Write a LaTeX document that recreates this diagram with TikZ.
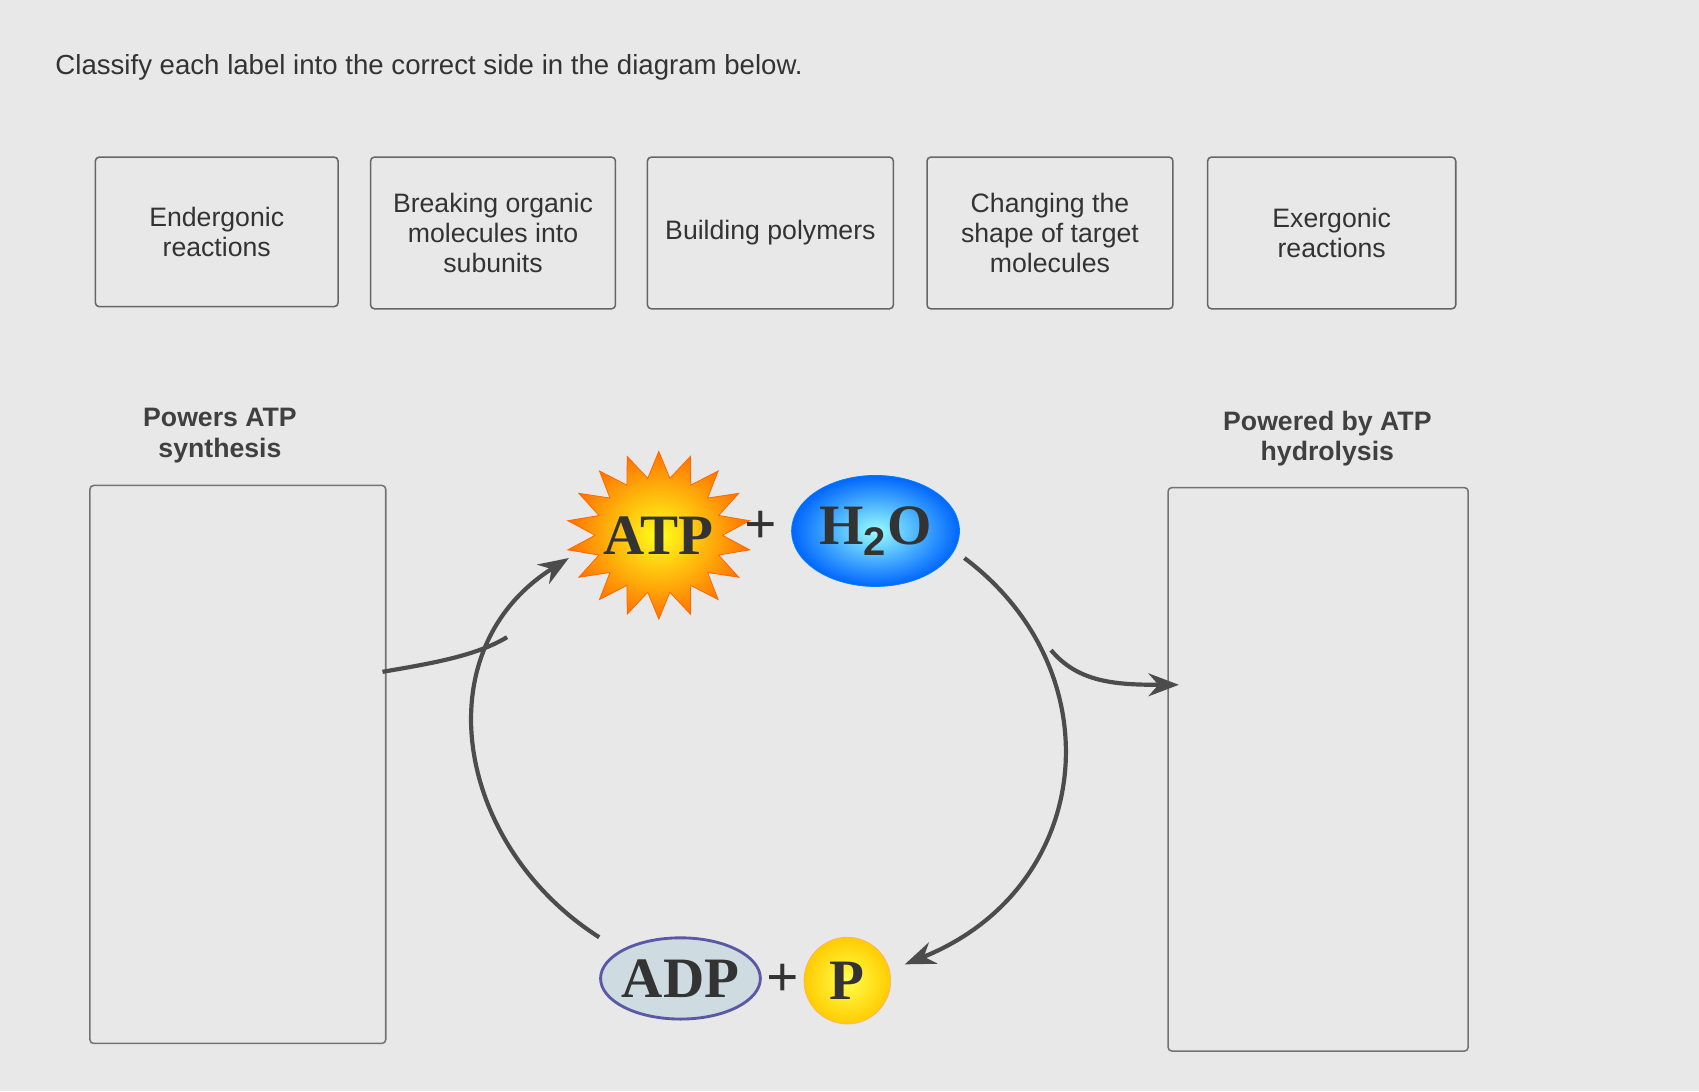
\documentclass[tikz,border=0pt]{standalone}
\usepackage{fontspec}
\setmainfont{Liberation Sans}
\newfontfamily\serifb{Liberation Serif}
\usetikzlibrary{shapes.geometric,arrows.meta}
\begin{document}
\begin{tikzpicture}[x=0.02cm,y=-0.02cm,
  lbl/.style={draw=black!60,line width=0.8pt,rounded corners=2pt,align=center,font=\fontsize{14}{16}\selectfont,text=black!80},
  drop/.style={draw=black!55,line width=0.8pt,rounded corners=2pt},
  hd/.style={align=center,font=\fontsize{14}{16}\selectfont\bfseries,text=black!75},
  cyc/.style={draw=black!70,line width=2.2pt,-{Stealth[length=16pt,width=12pt]}},
  chem/.style={font=\serifb\fontsize{30}{30}\selectfont\bfseries,text=black!80}]
\fill[gray!18] (0,0) rectangle (1568,1007);
\useasboundingbox (0,0) rectangle (1568,1007);
\node[anchor=west,font=\fontsize{14.5}{17}\selectfont,text=black!80] (title) at (45,62) {Classify each label into the correct side in the diagram below.};
\node[lbl,minimum width=4.48cm,minimum height=2.76cm] (b1) at (200,214) {Endergonic\\reactions};
\node[lbl,minimum width=4.52cm,minimum height=2.8cm] (b2) at (455,215) {Breaking organic\\molecules into\\subunits};
\node[lbl,minimum width=4.54cm,minimum height=2.8cm] (b3) at (711,215) {Building polymers};
\node[lbl,minimum width=4.54cm,minimum height=2.8cm] (b4) at (969,215) {Changing the\\shape of target\\molecules};
\node[lbl,minimum width=4.58cm,minimum height=2.8cm] (b5) at (1229,215) {Exergonic\\reactions};
\node[hd] (h1) at (203,402) {Powers ATP\\synthesis};
\node[hd] (h2) at (1225,405) {Powered by ATP\\hydrolysis};
\draw[drop] (83,448) rectangle (356,963);
\draw[drop] (1078,450) rectangle (1355,970);
% chemicals
\node[star,star points=18,star point ratio=1.45,minimum size=3.1cm,xscale=1.1,inner color=yellow!90!white,outer color=orange!90!red,draw=orange!80!red] (atp) at (608,494) {};
\node[chem] at (atp) {ATP};
\node[chem] (plus1) at (702,487) {+};
\node[ellipse,minimum width=3.1cm,minimum height=2.05cm,inner color=cyan!40!white,outer color=blue!60!cyan,draw=blue!50!cyan] (h2o) at (808,490) {};
\node[chem] at (h2o) {H$_{\mathbf 2}$O};
\node[ellipse,minimum width=2.95cm,minimum height=1.5cm,fill=cyan!25!gray!35,draw=blue!30!gray,line width=1.5pt] (adp) at (628,903) {};
\node[chem] at (adp) {ADP};
\node[chem] (plus2) at (722,905) {+};
\node[circle,minimum size=1.6cm,inner color=yellow!70!white,outer color=yellow!60!orange,draw=orange!60] (p) at (782,905) {};
\node[chem] at (p) {P};
% cycle
\coordinate (ls) at (553,865);
\coordinate (le) at (525,515);
\coordinate (rs) at (890,515);
\coordinate (re) at (835,890);
\draw[cyc] (ls) .. controls (420,780) and (390,600) .. (le);
\draw[cyc] (rs) .. controls (1030,620) and (1010,820) .. (re);
\coordinate (in) at (353,620);
\coordinate (inj) at (468,588);
\draw[draw=black!70,line width=2.2pt] (in) .. controls (400,612) and (440,605) .. (inj);
\coordinate (outs) at (970,600);
\coordinate (oute) at (1088,632);
\draw[cyc] (outs) .. controls (995,630) and (1030,632) .. (oute);
\end{tikzpicture}
\end{document}
